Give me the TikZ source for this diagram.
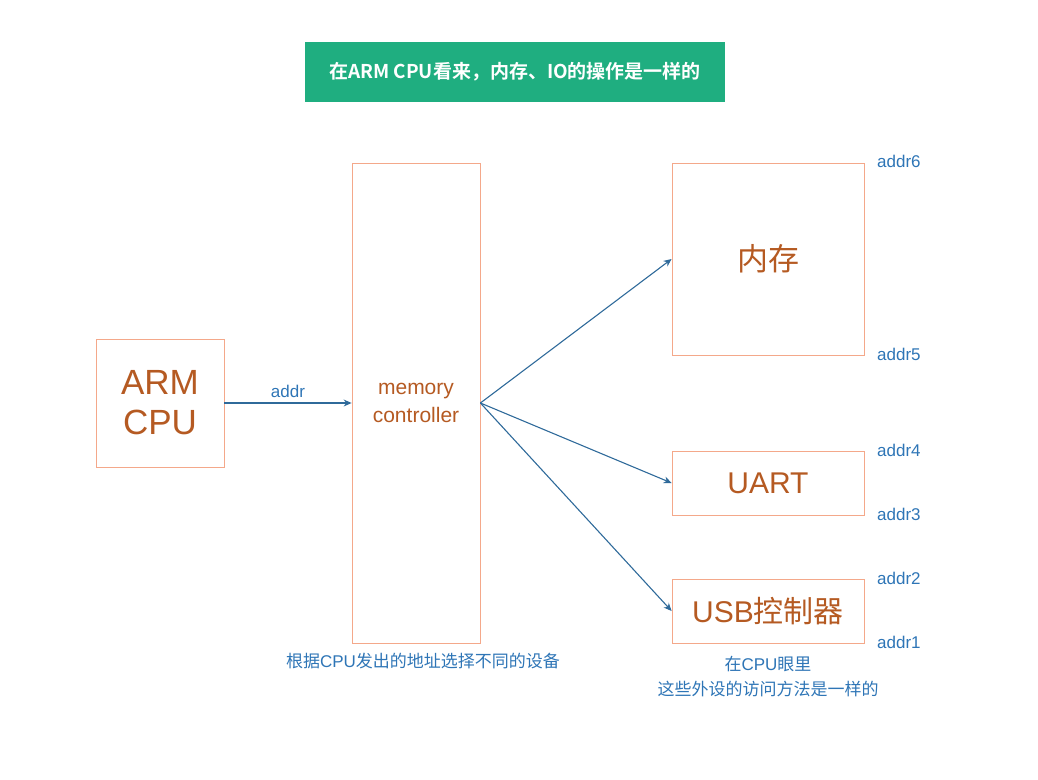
\documentclass[tikz,border=0pt]{standalone}
\usepackage{fontspec}
\setmainfont{Liberation Sans}
\newfontfamily\cjk{Noto Sans CJK SC}
\newfontfamily\cjkb{Noto Sans CJK SC Bold}
\usetikzlibrary{arrows.meta}
\definecolor{tgreen}{HTML}{1FAE80}
\definecolor{bord}{HTML}{F4A88A}
\definecolor{txt}{HTML}{B55A22}
\definecolor{lbl}{HTML}{2E75B6}
\definecolor{arr}{HTML}{2F6A9A}
\begin{document}
\begin{tikzpicture}[x=1pt,y=-1pt,
  box/.style={draw=bord,line width=0.8pt,text=txt,align=center,inner sep=0},
  lab/.style={text=lbl,font=\fontsize{17}{20}\selectfont,inner sep=0},
  ar/.style={draw=arr,line width=1.1pt,-{Stealth[length=8pt,width=7pt]}}]
\useasboundingbox (0,0) rectangle (1038,779);
\node[fill=tgreen,minimum width=420pt,minimum height=60pt,text=white,font=\cjkb\fontsize{19}{22}\selectfont,inner sep=0] (t) at (515,72) {在ARM CPU看来，内存、IO的操作是一样的};
\node[box,minimum width=128pt,minimum height=128pt,font=\fontsize{35}{40}\selectfont] (cpu) at (160,403) {ARM\\CPU};
\node[box,minimum width=128pt,minimum height=480pt,font=\fontsize{21}{28}\selectfont] (mc) at (416,403) {memory\\controller};
\node[box,minimum width=192pt,minimum height=192pt,font=\cjk\fontsize{31}{36}\selectfont] (mem) at (768,259) {内存};
\node[box,minimum width=192pt,minimum height=64pt,font=\fontsize{30}{36}\selectfont] (uart) at (768,483) {UART};
\node[box,minimum width=192pt,minimum height=64pt,font=\fontsize{30}{36}\selectfont] (usb) at (768,611) {USB{\cjk 控制器}};
\draw[ar] (cpu.east) -- (mc.west) node[midway,above=5pt,lab]{addr};
\draw[ar] (mc.east) -- (mem.west);
\draw[ar] (mc.east) -- (uart.west);
\draw[ar] (mc.east) -- (usb.west);
\foreach \n/\y in {6/161,5/354,4/450,3/514,2/578,1/642}
  \node[lab,anchor=west] (a\n) at (877,\y) {addr\n};
\node[lab] (b1) at (423,661) {{\cjk 根据}CPU{\cjk 发出的地址选择不同的设备}};
\node[lab,align=center,font=\fontsize{17}{25}\selectfont] (b2) at (768,677) {{\cjk 在}CPU{\cjk 眼里}\\{\cjk 这些外设的访问方法是一样的}};
\end{tikzpicture}
\end{document}
